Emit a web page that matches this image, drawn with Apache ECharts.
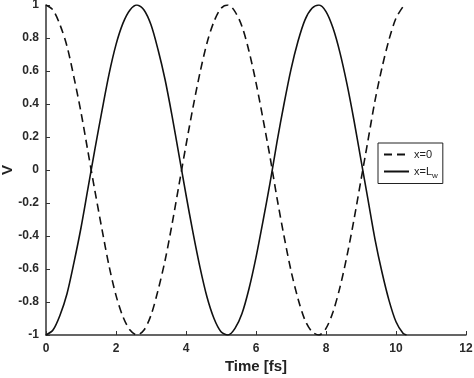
<!DOCTYPE html>
<html><head><meta charset="utf-8">
<script src="https://cdn.jsdelivr.net/npm/echarts@6/dist/echarts.min.js"></script>
<style>html,body{margin:0;padding:0;background:#fff}#c{width:474px;height:378px}</style>
</head><body><div id="c"></div>
<script>
// Times (fs) sampled along the curves
const timesDashed = [0,0.2,0.4,0.6,0.8,1.0,1.2,1.4,1.6,1.8,2.0,2.2,2.4,2.6,2.8,3.0,3.2,3.4,3.6,3.8,4.0,4.2,4.4,4.6,4.8,5.0,5.2,5.4,5.6,5.8,6.0,6.2,6.4,6.6,6.8,7.0,7.2,7.4,7.6,7.8,8.0,8.2,8.4,8.6,8.8,9.0,9.2,9.4,9.6,9.8,10.0,10.2];
const vX0 = [1.00,0.97,0.88,0.75,0.56,0.35,0.11,-0.13,-0.36,-0.58,-0.76,-0.89,-0.97,-1.00,-0.97,-0.88,-0.73,-0.55,-0.33,-0.09,0.15,0.38,0.59,0.77,0.90,0.98,1.00,0.96,0.87,0.72,0.53,0.31,0.08,-0.17,-0.40,-0.61,-0.78,-0.91,-0.98,-1.00,-0.96,-0.86,-0.71,-0.52,-0.30,-0.06,0.18,0.42,0.62,0.79,0.92,0.99];
const timesSolid = [0,0.2,0.4,0.6,0.8,1.0,1.2,1.4,1.6,1.8,2.0,2.2,2.4,2.6,2.8,3.0,3.2,3.4,3.6,3.8,4.0,4.2,4.4,4.6,4.8,5.0,5.2,5.4,5.6,5.8,6.0,6.2,6.4,6.6,6.8,7.0,7.2,7.4,7.6,7.8,8.0,8.2,8.4,8.6,8.8,9.0,9.2,9.4,9.6,9.8,10.0,10.2,10.3];
const vXLw = [-1.00,-0.97,-0.88,-0.75,-0.56,-0.35,-0.11,0.13,0.36,0.58,0.76,0.89,0.97,1.00,0.97,0.88,0.73,0.55,0.33,0.09,-0.15,-0.38,-0.59,-0.77,-0.90,-0.98,-1.00,-0.96,-0.87,-0.72,-0.53,-0.31,-0.08,0.17,0.40,0.61,0.78,0.91,0.98,1.00,0.96,0.86,0.71,0.52,0.30,0.06,-0.18,-0.42,-0.62,-0.79,-0.92,-0.99,-1.00];
const seriesNames = ['x=0', 'x=L_w'];
const xTicks = [0,2,4,6,8,10,12];
const yTicks = [-1,-0.8,-0.6,-0.4,-0.2,0,0.2,0.4,0.6,0.8,1];

const pairs = (t, v) => t.map((x, i) => [x, v[i]]);
const chart = echarts.init(document.getElementById('c'), null, {renderer: 'canvas'});
const axisCol = '#333';
const font = 'Liberation Sans, Arial, sans-serif';
chart.setOption({
  animation: false,
  backgroundColor: '#fff',
  grid: {left: 46, right: 8, top: 5, bottom: 43, containLabel: false, outerBoundsMode: 'none'},
  xAxis: {
    type: 'value', min: xTicks[0], max: xTicks[xTicks.length-1], interval: 2,
    name: 'Time [fs]', nameLocation: 'middle', nameGap: 24, nameMoveOverlap: false,
    nameTextStyle: {fontFamily: font, fontWeight: 'bold', fontSize: 15, color: '#222'},
    axisLine: {onZero: false, lineStyle: {color: axisCol, width: 1.5}},
    axisTick: {inside: true, length: 4, lineStyle: {color: axisCol}},
    axisLabel: {fontFamily: font, fontSize: 12, fontWeight: 'bold', color: '#2a2a2a', margin: 8},
    splitLine: {show: false}
  },
  yAxis: {
    type: 'value', min: yTicks[0], max: yTicks[yTicks.length-1], interval: 0.2,
    name: 'V', nameLocation: 'middle', nameGap: 31, nameRotate: 90, nameMoveOverlap: false,
    nameTextStyle: {fontFamily: font, fontWeight: 'bold', fontSize: 15, color: '#222'},
    axisLine: {onZero: false, lineStyle: {color: axisCol, width: 1.5}},
    axisTick: {inside: true, length: 4, lineStyle: {color: axisCol}},
    axisLabel: {fontFamily: font, fontSize: 12, fontWeight: 'bold', color: '#2a2a2a', margin: 7,
      formatter: function (v) { return String(Math.round(v*10)/10); }},
    splitLine: {show: false}
  },
  legend: {
    show: true,
    orient: 'vertical', left: 378, top: 143,
    borderColor: '#222', borderWidth: 1, padding: [6, 5, 4, 5],
    itemWidth: 25, itemHeight: 10, itemGap: 6,
    backgroundColor: '#fff',
    textStyle: {fontFamily: font, fontSize: 11, color: '#222',
      rich: {sub: {fontSize: 8, verticalAlign: 'bottom', padding: [8,0,0,0], fontFamily: font, color: '#222'}}},
    formatter: function (n) { return n === 'x=L_w' ? 'x=L{sub|w}' : n; },
    data: [{name: seriesNames[0], itemStyle: {opacity: 0}}, {name: seriesNames[1], itemStyle: {opacity: 0}}]
  },
  series: [
    {name: seriesNames[0], type: 'line', data: pairs(timesDashed, vX0), showSymbol: false, symbol: 'none', smooth: 0.3,
     lineStyle: {color: '#111', width: 1.6, type: [8,5]}, itemStyle: {color: '#111'}},
    {name: seriesNames[1], type: 'line', data: pairs(timesSolid, vXLw), showSymbol: false, symbol: 'none', smooth: 0.3,
     lineStyle: {color: '#111', width: 1.6, type: 'solid'}, itemStyle: {color: '#111'}}
  ]
});
</script></body></html>
